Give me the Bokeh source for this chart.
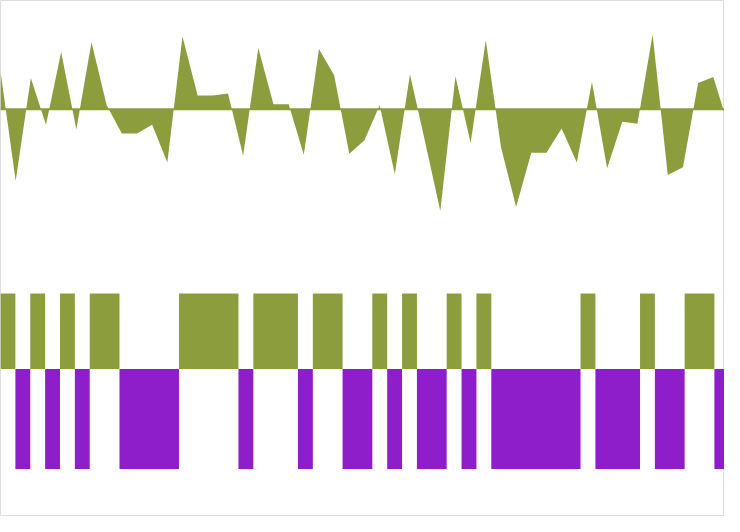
from bokeh.plotting import figure
from bokeh.models import Range1d, Span
from bokeh.embed import file_html
from bokeh.resources import INLINE

# ---- data ----
values = [3.9, -7.4, 3.2, -1.6, 5.9, -2.1, 6.9, 0.4, -2.5, -2.5,
          -1.6, -5.5, 7.5, 1.4, 1.4, 1.6, -4.8, 6.3, 0.5, 0.5,
          -4.7, 6.2, 3.5, -4.6, -3.2, 0.4, -6.7, 3.6, -3.4, -10.5,
          3.4, -3.5, 7.1, -3.9, -10.1, -4.5, -4.5, -2.0, -5.5, 2.8,
          -6.1, -1.3, -1.5, 7.7, -6.8, -6.0, 2.7, 3.3, -1.7]
index = list(range(len(values)))

# win / loss derived from the sign of each value, merged into runs
win_left, win_right, loss_left, loss_right = [], [], [], []
start = 0
for i in range(1, len(values) + 1):
    if i == len(values) or (values[i] >= 0) != (values[start] >= 0):
        if values[start] >= 0:
            win_left.append(start); win_right.append(i)
        else:
            loss_left.append(start); loss_right.append(i)
        start = i

# ---- style ----
GREEN = "#8c9d3e"
PURPLE = "#8e1eca"
W, H = 724, 516
win_height = 1.0
loss_depth = 1.32

p = figure(width=W, height=H, output_backend="svg", toolbar_location=None,
           x_range=Range1d(0, 47.74), y_range=Range1d(-42.0, 11.2),
           min_border=0, min_border_left=0, min_border_right=0,
           min_border_top=0, min_border_bottom=0)
p.extra_x_ranges = {"bars": Range1d(0, 48.68)}
p.extra_y_ranges = {"bars": Range1d(-1.949, 4.872)}
p.axis.visible = False
p.grid.visible = False
p.outline_line_color = "#dddddd"
p.outline_line_width = 1
p.background_fill_color = "white"
p.border_fill_color = "white"

# area sparkline
p.varea(x=index, y1=[0] * len(values), y2=values, fill_color=GREEN)
p.add_layout(Span(location=0, dimension="width", line_color=GREEN, line_width=2))

# win / loss bars
p.quad(left=win_left, right=win_right, bottom=0, top=win_height,
       fill_color=GREEN, line_color=None,
       x_range_name="bars", y_range_name="bars")
p.quad(left=loss_left, right=loss_right, bottom=-loss_depth, top=0,
       fill_color=PURPLE, line_color=None,
       x_range_name="bars", y_range_name="bars")

open("out.html", "w").write(file_html(p, INLINE))
